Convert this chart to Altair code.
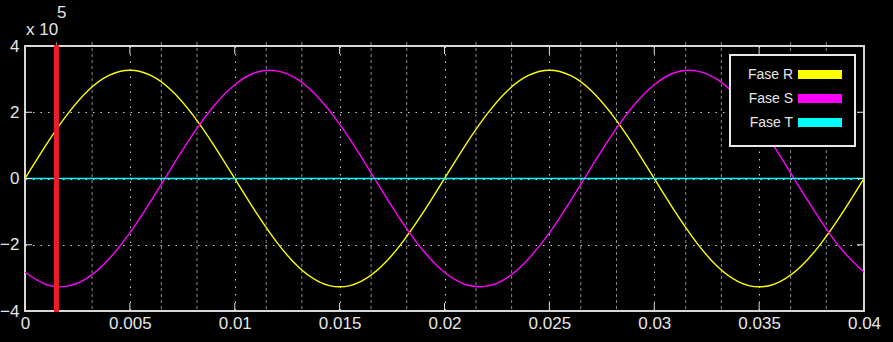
import altair as alt
import pandas as pd

W, H = 839, 265
FONT = "Liberation Sans"
TXT = "#e6e6e6"

# ---- data (values in units of 10^5) ----
series = ["Fase R", "Fase S", "Fase T"]
colors = ["#ffff00", "#ff00ff", "#00ffff"]

sample_ms = list(range(41))  # sample instants, ms
fase_r = [0.00, 1.01, 1.92, 2.65, 3.11, 3.27, 3.11, 2.65, 1.92, 1.01,
          0.00, -1.01, -1.92, -2.65, -3.11, -3.27, -3.11, -2.65, -1.92, -1.01,
          0.00, 1.01, 1.92, 2.65, 3.11, 3.27, 3.11, 2.65, 1.92, 1.01,
          0.00, -1.01, -1.92, -2.65, -3.11, -3.27, -3.11, -2.65, -1.92, -1.01,
          0.00]
fase_s = [-2.83, -3.20, -3.25, -2.99, -2.43, -1.64, -0.68, 0.34, 1.33, 2.19,
          2.83, 3.20, 3.25, 2.99, 2.43, 1.64, 0.68, -0.34, -1.33, -2.19,
          -2.83, -3.20, -3.25, -2.99, -2.43, -1.64, -0.68, 0.34, 1.33, 2.19,
          2.83, 3.20, 3.25, 2.99, 2.43, 1.64, 0.68, -0.34, -1.33, -2.19,
          -2.83]
fase_t = [0.0, 0.0, 0.0, 0.0, 0.0, 0.0, 0.0, 0.0, 0.0, 0.0,
          0.0, 0.0, 0.0, 0.0, 0.0, 0.0, 0.0, 0.0, 0.0, 0.0,
          0.0, 0.0, 0.0, 0.0, 0.0, 0.0, 0.0, 0.0, 0.0, 0.0,
          0.0, 0.0, 0.0, 0.0, 0.0, 0.0, 0.0, 0.0, 0.0, 0.0,
          0.0]

x_ticks = [0, 0.005, 0.01, 0.015, 0.02, 0.025, 0.03, 0.035, 0.04]
y_ticks = [-4, -2, 0, 2, 4]
marker_t = [0.0015]
minor_lines = [0.0015, 0.0032, 0.0065, 0.0082, 0.0115, 0.0132, 0.0165, 0.0182,
               0.0215, 0.0232, 0.0265, 0.0282, 0.0315, 0.0332, 0.0365, 0.0382]

rows = []
for name, vals in zip(series, [fase_r, fase_s, fase_t]):
    for ms, v in zip(sample_ms, vals):
        rows.append({"t": ms / 1000.0, "v": v, "series": name})
df = pd.DataFrame(rows)

xs = alt.Scale(domain=[0, 0.04], nice=False, zero=False)
ys = alt.Scale(domain=[-4, 4], nice=False)
cs = alt.Scale(domain=series, range=colors)

grid_dash = [1.5, 6]
x_axis = alt.Axis(values=x_ticks, format=".3~f", title=None, domain=False,
                  tickSize=0, labelPadding=4, labelFont=FONT, labelFontSize=17,
                  labelColor=TXT, grid=True, gridColor="#cfcfcf",
                  gridDash=grid_dash, gridWidth=1, labelFlush=False,
                  labelOverlap=False, labelBound=False)
y_axis = alt.Axis(values=y_ticks, format="d", title=None, domain=False,
                  tickSize=0, labelPadding=6, labelFont=FONT, labelFontSize=17,
                  labelColor=TXT, grid=True, gridColor="#cfcfcf",
                  gridDash=grid_dash, gridWidth=1, labelFlush=False,
                  labelOverlap=False, labelBound=False)

one = alt.Data(values=[{}])

minor = alt.Chart(pd.DataFrame({"t": minor_lines})).mark_rule(
    color="#8a8a8a", strokeDash=[3, 3], strokeWidth=1
).encode(x=alt.X("t:Q", scale=xs, axis=x_axis), y=alt.value(-4), y2=alt.value(H))

curves = alt.Chart(df).mark_line(strokeWidth=1.4, interpolate="natural").encode(
    x=alt.X("t:Q", scale=xs, axis=x_axis),
    y=alt.Y("v:Q", scale=ys, axis=y_axis),
    color=alt.Color("series:N", scale=cs, legend=None),
)

inner_x = pd.DataFrame({"t": x_ticks[1:-1]})
inner_y = pd.DataFrame({"v": y_ticks[1:-1]})
tick_top = alt.Chart(inner_x).mark_rule(color="#e0e0e0", strokeWidth=1).encode(
    x=alt.X("t:Q", scale=xs, axis=x_axis), y=alt.value(0), y2=alt.value(8))
tick_bot = alt.Chart(inner_x).mark_rule(color="#e0e0e0", strokeWidth=1).encode(
    x=alt.X("t:Q", scale=xs, axis=x_axis), y=alt.value(H - 8), y2=alt.value(H))
tick_left = alt.Chart(inner_y).mark_rule(color="#e0e0e0", strokeWidth=1).encode(
    y=alt.Y("v:Q", scale=ys, axis=None), x=alt.value(0), x2=alt.value(7))
tick_right = alt.Chart(inner_y).mark_rule(color="#e0e0e0", strokeWidth=1).encode(
    y=alt.Y("v:Q", scale=ys, axis=None), x=alt.value(W - 7), x2=alt.value(W))

marker = alt.Chart(pd.DataFrame({"t": marker_t})).mark_rule(
    color="#ee1c24", strokeWidth=5
).encode(x=alt.X("t:Q", scale=xs, axis=x_axis), y=alt.value(-1), y2=alt.value(H + 1))

# legend
leg_box = alt.Chart(one).mark_rect(fill="black", stroke="#e8e8e8", strokeWidth=2).encode(
    x=alt.value(705), x2=alt.value(830), y=alt.value(9), y2=alt.value(100))
leg_df = pd.DataFrame({"series": series})
leg_y = alt.Y("series:N", scale=alt.Scale(type="point", domain=series,
                                          range=[28.5, 76.5], padding=0), axis=None)
leg_sw = alt.Chart(leg_df).mark_rule(strokeWidth=9, strokeCap="butt").encode(
    x=alt.value(773), x2=alt.value(817), y=leg_y,
    color=alt.Color("series:N", scale=cs, legend=None))
leg_tx = alt.Chart(leg_df).mark_text(align="right", baseline="middle", font=FONT,
                                     fontSize=14, color=TXT).encode(
    x=alt.value(768), y=leg_y, text="series:N")

exp1 = alt.Chart(one).mark_text(align="left", baseline="middle", font=FONT,
                                fontSize=17, color=TXT).encode(
    x=alt.value(1), y=alt.value(-16), text=alt.value("x 10"))
exp2 = alt.Chart(one).mark_text(align="left", baseline="middle", font=FONT,
                                fontSize=17, color=TXT).encode(
    x=alt.value(32), y=alt.value(-33), text=alt.value("5"))

chart = alt.layer(
    minor, curves, tick_top, tick_bot, tick_left, tick_right, marker,
    leg_box, leg_sw, leg_tx, exp1, exp2
).resolve_scale(y="independent").properties(
    width=W, height=H,
    autosize=alt.AutoSizeParams(type="none"),
    padding={"left": 25, "top": 46, "right": 29, "bottom": 31},
    background="black",
).configure_view(stroke="#d8d8d8", strokeWidth=2, fill="black")

chart.save("out.html", embed_options={"renderer": "svg", "actions": False})
